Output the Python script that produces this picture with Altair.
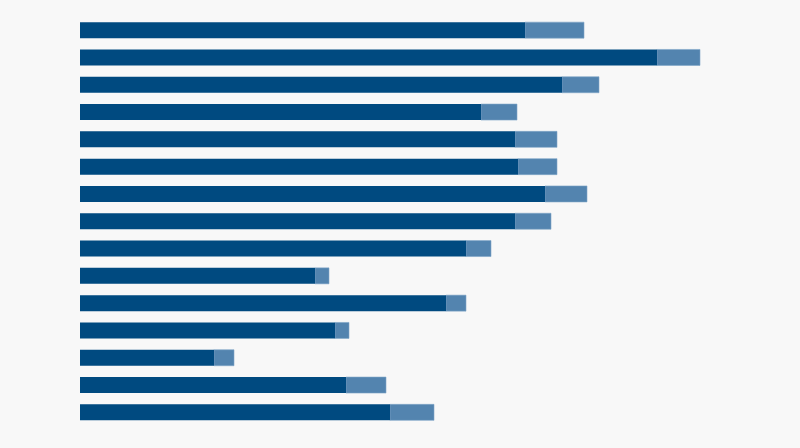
import altair as alt
import pandas as pd

rows = [f"R{i:02d}" for i in range(1, 16)]
base_vals = [445, 577, 482, 401, 435, 438, 465, 435, 386, 235, 366, 255, 134, 266, 310]
upper_vals = [504, 620, 519, 437, 477, 477, 507, 471, 411, 249, 386, 269, 154, 306, 354]

df = pd.DataFrame({"row": rows, "base": base_vals, "upper": upper_vals})

y = alt.Y("row:N", sort=rows, axis=None,
          scale=alt.Scale(paddingInner=0.414, paddingOuter=0.207))
xs = alt.Scale(domain=[0, 720], nice=False, zero=True)

light = alt.Chart(df).mark_bar(color="#5384af", stroke="#7fa6c8", strokeWidth=0.6).encode(
    x=alt.X("base:Q", scale=xs, axis=None), x2="upper:Q", y=y)
dark = alt.Chart(df).mark_bar(color="#004a80").encode(
    x=alt.X("base:Q", scale=xs, axis=None), y=y)

chart = (light + dark).properties(
    width=720, height=409.5,
    padding={"left": 80, "top": 16.5, "right": 0, "bottom": 22},
    autosize=alt.AutoSizeParams(type="none"),
    background="#f8f8f8",
).configure_view(stroke=None)

chart.save("out.html", embed_options={"renderer": "svg", "actions": False})
